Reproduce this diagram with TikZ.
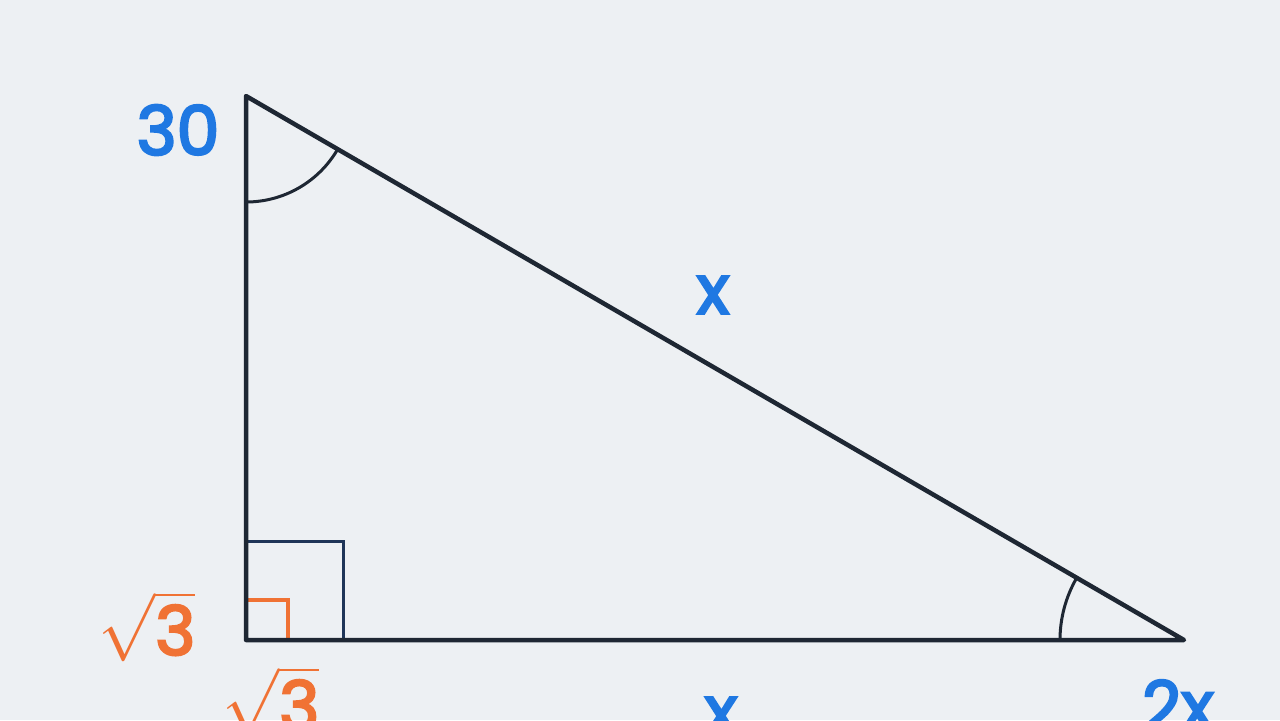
\RequirePackage{fix-cm}
\documentclass[tikz,border=0pt]{standalone}
\usepackage{amsmath}
\usepackage{fontspec}
\setmainfont{Poppins}
\newfontfamily\lblfont{Poppins}[FakeBold=3.5]
\usepackage{tikz}
\usetikzlibrary{angles}

\definecolor{bgcol}{HTML}{EDF0F3}
\definecolor{edgecol}{HTML}{1E2733}
\definecolor{boxcol}{HTML}{1F3558}
\definecolor{bluecol}{HTML}{1F78E2}
\definecolor{orangecol}{HTML}{F07234}

\begin{document}
\begin{tikzpicture}[x=0.5pt,y=-0.5pt,
  side/.style={edgecol, line width=2.25pt, line join=round},
  anglearc/.style={draw=edgecol, line width=1.5pt, angle radius=53pt},
  bluelbl/.style={bluecol, font=\fontsize{34}{40}\selectfont\lblfont, inner sep=0pt},
  orangelbl/.style={orangecol, font=\fontsize{34}{40}\selectfont\lblfont, inner sep=0pt}]

\fill[bgcol] (0,0) rectangle (1280,720);
\useasboundingbox (0,0) rectangle (1280,720);

% corners of the triangle
\coordinate (A) at (246,96);
\coordinate (B) at (246,640);
\coordinate (C) at (1184,640);

% right angle boxes
\draw[boxcol, line width=1.5pt] (246,541) rectangle (343,640);
\draw[orangecol, line width=1.7pt] (246,600) -- (288,600) -- (288,640);

% angle arcs
\pic[anglearc] {angle=B--A--C};
\pic[anglearc, angle radius=62pt] {angle=A--C--B};

\draw[side] (A) -- (B) -- (C) -- cycle;

% labels
\node[bluelbl] (top) at (178,130) {30};
\node[bluelbl] (hyp) at (713,295) {x};
\node[bluelbl] (base) at (721,716) {x};
\node[bluelbl] (right) at (1178,705) {2x};
\node[orangelbl, anchor=base] (left) at (147,655) {$\sqrt{\mbox{\lblfont 3}}$};
\node[orangelbl, anchor=base] (under) at (271,730) {$\sqrt{\mbox{\lblfont 3}}$};

\end{tikzpicture}
\end{document}
